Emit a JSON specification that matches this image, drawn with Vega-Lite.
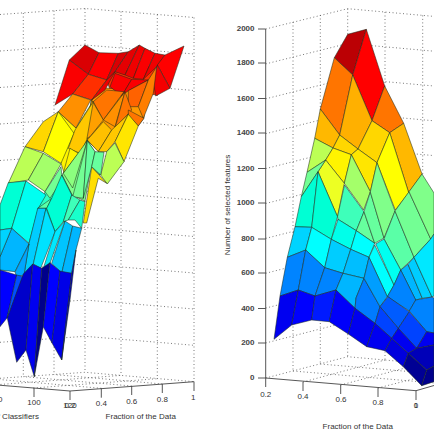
{
  "$schema": "https://vega.github.io/schema/vega-lite/v6.json",
  "autosize": {"type": "none"},
  "width": 434,
  "height": 434,
  "padding": 0,
  "background": "white",
  "config": {"view": {"stroke": null}},
  "datasets": {
    "grid": [
      {"id":"a0","h":[0,85,194],"v":[14.5,8.5,17.5]},
      {"id":"a1","h":[0,85,194],"v":[51,45,54]},
      {"id":"a2","h":[0,85,194],"v":[87.5,81.5,90.5]},
      {"id":"a3","h":[0,85,194],"v":[124,118,127]},
      {"id":"a4","h":[0,85,194],"v":[160.5,154.5,163.5]},
      {"id":"a5","h":[0,85,194],"v":[197,191,200]},
      {"id":"a6","h":[0,85,194],"v":[233.5,227.5,236.5]},
      {"id":"a7","h":[0,85,194],"v":[270,264,273]},
      {"id":"a8","h":[0,85,194],"v":[306,300,309]},
      {"id":"a9","h":[0,85,194],"v":[342.3,336.3,345.3]},
      {"id":"a10","h":[0,85,194],"v":[378.3,372.3,381.7]},
      {"id":"b1","h":[23.3,23.3],"v":[13,376.7]},
      {"id":"b2","h":[54,54],"v":[10.7,374.5]},
      {"id":"b3","h":[85,85],"v":[8.5,372.3]},
      {"id":"b4","h":[121,121],"v":[11.5,375.3]},
      {"id":"b5","h":[157.3,157.3],"v":[14.5,378.5]},
      {"id":"b6","h":[194,194],"v":[17.5,381.7]},
      {"id":"c1","h":[-3,121],"v":[384.7,375.4]},
      {"id":"c2","h":[33.3,157.3],"v":[388,378.7]},
      {"id":"c3","h":[101.3,-7.7],"v":[388.3,378.9]},
      {"id":"c4","h":[131.7,23],"v":[386,376.6]},
      {"id":"c5","h":[162.3,53.5],"v":[384,374.5]},
      {"id":"d1","h":[265.7,347.7,434],"v":[343,321.9,329.6]},
      {"id":"d2","h":[265.7,347.7,434],"v":[308.1,287.1,294.8]},
      {"id":"d3","h":[265.7,347.7,434],"v":[273.3,252.3,260]},
      {"id":"d4","h":[265.7,347.7,434],"v":[238.4,217.5,225.2]},
      {"id":"d5","h":[265.7,347.7,434],"v":[203.5,182.7,190.4]},
      {"id":"d6","h":[265.7,347.7,434],"v":[168.6,147.9,155.6]},
      {"id":"d7","h":[265.7,347.7,434],"v":[133.7,113.1,120.8]},
      {"id":"d8","h":[265.7,347.7,434],"v":[98.8,78.3,86]},
      {"id":"d9","h":[265.7,347.7,434],"v":[63.9,43.5,51.2]},
      {"id":"d10","h":[265.7,347.7,434],"v":[29,8.7,16.4]},
      {"id":"d0","h":[265.7,347.7,434],"v":[378,356.7,364.4]},
      {"id":"e1","h":[293,293],"v":[22,371]},
      {"id":"e2","h":[320.3,320.3],"v":[15,364]},
      {"id":"e3","h":[347.7,347.7],"v":[8.7,356.7]},
      {"id":"e4","h":[385,385],"v":[12,360]},
      {"id":"e5","h":[422.7,422.7],"v":[15.4,363.4]},
      {"id":"f1","h":[303,385],"v":[382,360]},
      {"id":"f2","h":[340.7,422.7],"v":[385,363.4]},
      {"id":"f3","h":[378,460],"v":[388,367]},
      {"id":"f4","h":[293,443],"v":[371,383.7]},
      {"id":"f5","h":[320.3,470],"v":[364,376.7]}
    ],
    "axes": [
      {"id":"z","h":[265.7,265.7],"v":[29,378]},
      {"id":"x","h":[265.7,416,434],"v":[378,390.7,385.5]},
      {"id":"l","h":[-3,70,194],"v":[385,391,381.7]},
      {"id":"t0","h":[258,265.7],"v":[378,378]},
      {"id":"t1","h":[258,265.7],"v":[343,343]},
      {"id":"t2","h":[258,265.7],"v":[308.5,308.5]},
      {"id":"t3","h":[258,265.7],"v":[273,273]},
      {"id":"t4","h":[258,265.7],"v":[239,239]},
      {"id":"t5","h":[258,265.7],"v":[203,203]},
      {"id":"t6","h":[258,265.7],"v":[168.5,168.5]},
      {"id":"t7","h":[258,265.7],"v":[133,133]},
      {"id":"t8","h":[258,265.7],"v":[98.5,98.5]},
      {"id":"t9","h":[258,265.7],"v":[63,63]},
      {"id":"t10","h":[258,265.7],"v":[29,29]},
      {"id":"u1","h":[265.7,265.7],"v":[378,387]},
      {"id":"u2","h":[303,303],"v":[382,391]},
      {"id":"u3","h":[340.7,340.7],"v":[385,394]},
      {"id":"u4","h":[378,378],"v":[388,397]},
      {"id":"u5","h":[416,416],"v":[390.7,400]},
      {"id":"w1","h":[34,34],"v":[388,397]},
      {"id":"w2","h":[70,70],"v":[391,400]},
      {"id":"w3","h":[101.3,101.3],"v":[388.3,397.7]},
      {"id":"w4","h":[131.7,131.7],"v":[386,395]},
      {"id":"w5","h":[162.3,162.3],"v":[384,393]},
      {"id":"w6","h":[194,194],"v":[381.7,391]}
    ],
    "surface": [
      {"id":"r1","z":94,"h":[347.7,366.3,352.7,334.3,347.7],"v":[34.3,29.3,75,57.7,34.3]},
      {"id":"r2","z":87.5,"h":[366.3,384.7,372,352.7,366.3],"v":[29.3,86,120.7,75,29.3]},
      {"id":"r3","z":80,"h":[334.3,352.7,339.7,320.3,334.3],"v":[57.7,75,135,109,57.7]},
      {"id":"r4","z":73,"h":[352.7,372,358,339.7,352.7],"v":[75,120.7,149,135,75]},
      {"id":"r5","z":80,"h":[384.7,403.7,389.7,372,384.7],"v":[86,123.3,132.7,120.7,86]},
      {"id":"r6","z":72,"h":[320.3,339.7,333,314.7,320.3],"v":[109,135,148,138.3,109]},
      {"id":"r7","z":68,"h":[339.7,358,351.3,333,339.7],"v":[135,149,154.7,148,135]},
      {"id":"r8","z":68,"h":[372,389.7,377,358,372],"v":[120.7,132.7,162.7,149,120.7]},
      {"id":"r9","z":72,"h":[389.7,403.7,422,408.7,389.7],"v":[132.7,123.3,174,192.7,132.7]},
      {"id":"r10","z":62.5,"h":[389.7,408.7,395.3,377,389.7],"v":[132.7,192.7,210,162.7,132.7]},
      {"id":"r11","z":57,"h":[314.7,333,325.7,307,314.7],"v":[138.3,148,160,172.3,138.3]},
      {"id":"r12","z":64,"h":[333,351.3,344.3,325.7,333],"v":[148,154.7,183.3,160,148]},
      {"id":"r13","z":66,"h":[358,377,370.3,351.3,358],"v":[149,162.7,191.7,154.7,149]},
      {"id":"r14","z":55,"h":[351.3,370.3,363.7,344.3,351.3],"v":[154.7,191.7,210,183.3,154.7]},
      {"id":"r15","z":61,"h":[325.7,344.3,337.5,318,325.7],"v":[160,183.3,216.7,171.7,160]},
      {"id":"r16","z":51,"h":[307,325.7,318,301.3,307],"v":[172.3,160,171.7,196.7,172.3]},
      {"id":"r17","z":44,"h":[301.3,318,311.7,295,301.3],"v":[196.7,171.7,227.3,226.7,196.7]},
      {"id":"r18","z":44,"h":[318,337.5,331.3,311.7,318],"v":[171.7,216.7,239.3,227.3,171.7]},
      {"id":"r19","z":47,"h":[344.5,364,356.3,338,337.5,344.5],"v":[185,211.7,230.7,219.3,216.7,185]},
      {"id":"r20","z":50,"h":[364,374.7,356.3,364],"v":[211.7,243.3,230.7,211.7]},
      {"id":"r21","z":50,"h":[364,370.3,384,374.7,364],"v":[211.7,192,238,243.3,211.7]},
      {"id":"r22","z":52,"h":[370.3,377,395,384,370.3],"v":[192,162.7,211,238,192]},
      {"id":"r23","z":49,"h":[384,395,414,400.7,384],"v":[239,211,257.3,270,239]},
      {"id":"r24","z":51,"h":[395,409,430.7,414,395],"v":[211,191.7,239,257.3,211]},
      {"id":"r25","z":52,"h":[409,422,434,434,430.7,409],"v":[191.7,174,193,234,239,191.7]},
      {"id":"r26","z":31,"h":[287.3,295,311.7,305.7,287.3],"v":[257.3,226.7,227.3,250,257.3]},
      {"id":"r27","z":37.5,"h":[305.7,311.7,331.3,324.7,305.7],"v":[250,227.3,239.3,267.7,250]},
      {"id":"r28","z":41,"h":[331.3,338,356.3,350.7,331.3],"v":[239.3,219.3,230.7,249.3,239.3]},
      {"id":"r29","z":37.5,"h":[350.7,356.3,374.7,369,350.7],"v":[249.3,230.7,243.3,257.3,249.3]},
      {"id":"r30","z":30,"h":[324.7,331.3,350.7,343,324.7],"v":[267.7,239.3,249.3,273.3,267.7]},
      {"id":"r31","z":28,"h":[343,350.7,369,364,343],"v":[273.3,249.3,257.3,278.3,273.3]},
      {"id":"r32","z":37.5,"h":[374.7,394,387.3,369,374.7],"v":[245,285,296.7,257.3,245]},
      {"id":"r33","z":40,"h":[375.7,384,400.7,394,375.7],"v":[244,239,270,285,244]},
      {"id":"r34","z":27,"h":[400.7,408,422.3,415.7,400.7],"v":[270,264.3,298.3,300,270]},
      {"id":"r35","z":30,"h":[408,414,432,422.3,408],"v":[264.3,257.3,297,298.3,264.3]},
      {"id":"r36","z":34,"h":[414,430.7,434,434,432,414],"v":[257.3,239,234,296,297,257.3]},
      {"id":"r37","z":21,"h":[280,287.3,305.7,298.3,280],"v":[296,257.3,250,290,296]},
      {"id":"r38","z":21,"h":[298.3,305.7,324.7,315,298.3],"v":[290,250,267.7,296,290]},
      {"id":"r39","z":21,"h":[315,324.7,343,336,315],"v":[296,267.7,273.3,290,296]},
      {"id":"r40","z":27,"h":[336,343,364,356,355,336],"v":[290,273.3,278.3,298,308.3,290]},
      {"id":"r41","z":20,"h":[356,364,380,375,355,356],"v":[298,278.3,306.7,323.3,308.3,298]},
      {"id":"r42","z":24,"h":[364,369,387.3,380,364],"v":[278.3,257.3,296.7,306.7,278.3]},
      {"id":"r43","z":21,"h":[387.3,394,400.7,415.7,409.3,387.3],"v":[296.7,285,270,300,311,296.7]},
      {"id":"r44","z":21,"h":[409.3,415.7,432,434,434,426.7,409.3],"v":[311,300,297,298,333,331.7,311]},
      {"id":"r45","z":17,"h":[380,388,409.3,398.3,380],"v":[306.7,296.7,311.7,328.3,306.7]},
      {"id":"r46","z":15,"h":[375,380,398.3,391.7,375],"v":[323.3,306.7,328.3,338.3,323.3]},
      {"id":"r47","z":15,"h":[398.3,409.3,426.7,416.7,398.3],"v":[328.3,311.7,331.7,348.3,328.3]},
      {"id":"r48","z":11,"h":[416.7,426.7,434,434,416.7],"v":[348.3,331.7,333,345,348.3]},
      {"id":"r49","z":11,"h":[274,280,298.3,291.7,274],"v":[339.3,296,290,325,339.3]},
      {"id":"r50","z":12.5,"h":[291.7,298.3,315,311.7,291.7],"v":[325,290,296,320,325]},
      {"id":"r51","z":13,"h":[311.7,315,336,329.3,311.7],"v":[320,296,290,321.7,320]},
      {"id":"r52","z":12,"h":[329.3,336,355,348.3,329.3],"v":[321.7,290,308.3,334,321.7]},
      {"id":"r53","z":11,"h":[355,375,366.7,348.3,355],"v":[308.3,323.3,346.7,334,308.3]},
      {"id":"r54","z":11,"h":[375,391.7,385,366.7,375],"v":[323.3,338.3,350.7,346.7,323.3]},
      {"id":"r55","z":9,"h":[391.7,408.3,403.3,385,391.7],"v":[338.3,353.3,366.7,350.7,338.3]},
      {"id":"r56","z":11,"h":[398.3,416.7,408.3,391.7,398.3],"v":[328.3,348.3,353.3,338.3,328.3]},
      {"id":"r57","z":5,"h":[416.7,434,434,426.7,408.3,416.7],"v":[348.3,345,366,370,353.3,348.3]},
      {"id":"r58","z":1,"h":[408.3,426.7,421.7,403.3,408.3],"v":[353.3,370,385.7,366.7,353.3]},
      {"id":"r59","z":0,"h":[426.7,434,434,421.7,426.7],"v":[370,366,381.7,385.7,370]},

      {"id":"lb1","z":86,"h":[106.7,115,155,157,128,110,106.7],"v":[80,72,66,95,92,90,80]},
      {"id":"lb2","z":76,"h":[91,106,125,148,144,138,115,98,87,91],"v":[100,88,90,80,118,126,128,151,140,100]},
      {"id":"lb3","z":64,"h":[58.3,76,93,87,78,64,61,58.3],"v":[111.7,128,101,140,153,173,163,111.7]},
      {"id":"lb4","z":52,"h":[62,87,95,100,91,85,72,62],"v":[175,140,152,175,167,201,195,175]},
      {"id":"lb5","z":46,"h":[45,62,72,55,38,45],"v":[192,175,195,232,208,192]},
      {"id":"l1","z":91,"h":[69.3,85,99,88.3,69.3],"v":[60,45,52.7,74.3,60]},
      {"id":"l2","z":87.5,"h":[88.3,99,118.3,106.7,88.3],"v":[74.3,52.7,53.3,80,74.3]},
      {"id":"l3","z":91,"h":[106.7,118.3,128.3,115,106.7],"v":[80,53.3,51.7,71.7,80]},
      {"id":"l4","z":90,"h":[115,128.3,139.3,125,115],"v":[71.7,51.7,45,75,71.7]},
      {"id":"l5","z":89,"h":[125,139.3,145,133.3,125],"v":[75,45,48.3,78.3,75]},
      {"id":"l6","z":88,"h":[133.3,145,155,143.3,133.3],"v":[78.3,48.3,53.3,79.3,78.3]},
      {"id":"l7","z":89,"h":[143.3,155,165,156.7,143.3],"v":[79.3,53.3,55,66.7,79.3]},
      {"id":"l8","z":87.5,"h":[157.3,165,184,170,157.3],"v":[65,55,46,88.3,65]},
      {"id":"l9","z":88.5,"h":[157.3,170,155.7,153,157.3],"v":[65,88.3,96,80,65]},
      {"id":"l10","z":88,"h":[55,69.3,88.3,72.7,55],"v":[105,60,74.3,94,105]},
      {"id":"l11","z":86,"h":[72.7,88.3,106.7,91.7,72.7],"v":[94,74.3,80,100,94]},
      {"id":"l12","z":89,"h":[91.7,106.7,115,105,91.7],"v":[100,80,71.7,90,100]},
      {"id":"l13","z":88,"h":[110,115,131.7,121.7,110],"v":[86.7,73.3,79.3,96,86.7]},
      {"id":"l14","z":88,"h":[121.7,131.7,148.3,128.3,121.7],"v":[96,79.3,80,90.7,96]},
      {"id":"l15","z":82,"h":[128.3,148.3,138.3,128.3,128.3],"v":[90.7,80,106.7,106.7,90.7]},
      {"id":"l16","z":79,"h":[148.3,156.7,153.3,143.3,138.3,148.3],"v":[80,66.7,93.3,118.3,106.7,80]},
      {"id":"l17","z":77,"h":[58.3,72.7,90.7,76,58.3],"v":[111.7,94,100,128,111.7]},
      {"id":"l18","z":68,"h":[43.3,58.3,43.3,25,43.3],"v":[121.7,111.7,151.7,146.7,121.7]},
      {"id":"l19","z":62.5,"h":[58.3,74,61,43.3,58.3],"v":[111.7,133.3,163.3,151.7,111.7]},
      {"id":"l20","z":80,"h":[93.3,106.7,124,103.3,93.3],"v":[101.7,90,91.7,120,101.7]},
      {"id":"l21","z":75,"h":[91.7,103.3,90,83.3,91.7],"v":[100,120,136.7,140,100]},
      {"id":"l22","z":70,"h":[93.3,75,68.3,80,86.7,93.3],"v":[101.7,130,148.3,153.3,140,101.7]},
      {"id":"l23","z":77,"h":[103.3,125,115,103.3],"v":[120,91.7,126.7,120]},
      {"id":"l24","z":80,"h":[125,131.7,115,125],"v":[91.7,110,128.3,91.7]},
      {"id":"l25","z":80,"h":[128.3,144,138.3,128.3,128.3],"v":[110,118.3,126,115,110]},
      {"id":"l26","z":71,"h":[87.3,103.3,111.7,98.3,87.3],"v":[140,121.7,130,151.7,140]},
      {"id":"l27","z":70,"h":[98.3,111.7,128.3,115,106.7,98.3],"v":[151.7,130,114.3,141.7,151.7,151.7]},
      {"id":"l28","z":66,"h":[115,128.3,138.3,124,115],"v":[141.7,114.3,126,161.7,141.7]},
      {"id":"l29","z":57,"h":[106.7,115,124,107.3,100.7,106.7],"v":[151.7,143,161.7,184,175,151.7]},
      {"id":"l30","z":64,"h":[70,78.3,63.3,70],"v":[148.3,153.3,173.3,148.3]},
      {"id":"l31","z":67,"h":[91.7,106.7,98.3,86.7,83.3,91.7],"v":[167,183.3,178.3,223,223,167]},
      {"id":"l32","z":53,"h":[87.3,72.7,63.3,87.3],"v":[140.7,188,173.3,140.7]},
      {"id":"l33","z":51,"h":[87.3,83.3,72.7,87.3],"v":[140.7,198.3,196.7,140.7]},
      {"id":"l34","z":50,"h":[87.3,95,91.7,83.3,87.3],"v":[140.7,151.7,166.7,198.3,140.7]},
      {"id":"l35","z":50,"h":[95,104,100.7,91.7,95],"v":[151.7,152.3,175,166.7,151.7]},
      {"id":"l36","z":57,"h":[25,43.3,28.3,8.3,25],"v":[146.7,153.3,180,183.3,146.7]},
      {"id":"l37","z":55,"h":[43.3,61,45,28.3,43.3],"v":[153.3,164,191.7,180,153.3]},
      {"id":"l38","z":51,"h":[61,62.3,50,45,61],"v":[166.7,180,198.3,191.7,166.7]},
      {"id":"l39","z":44,"h":[8.3,26,11.7,0,0,8.3],"v":[182.7,181,228.3,230,205,182.7]},
      {"id":"l40","z":40,"h":[26,46,38.3,29,11.7,26],"v":[181,195,208.3,243.3,228.3,181]},
      {"id":"l41","z":49,"h":[40,51.7,46.7,37.7,40],"v":[206.7,198.3,208.3,208.3,206.7]},
      {"id":"l42","z":44,"h":[51.7,61.7,71.7,63.3,55,46.7,51.7],"v":[198.3,175,195,221.7,231.7,208.3,198.3]},
      {"id":"l43","z":47,"h":[71.7,80,68.3,63.3,71.7],"v":[195,200,220,221.7,195]},
      {"id":"l44","z":45,"h":[80,85,81.7,75,68.3,80],"v":[200,201.7,228.3,220,220,200]},
      {"id":"l45","z":30,"h":[37.7,46,33.3,24,29,37.7],"v":[208.3,208.3,264,275,243.3,208.3]},
      {"id":"l46","z":33,"h":[46,55,40.7,33.3,46],"v":[208.3,231.7,268.3,264,208.3]},
      {"id":"l47","z":27,"h":[0,11.7,29,15,0,0],"v":[256.7,228.3,244,271.7,270,256.7]},
      {"id":"l48","z":31,"h":[0,11.7,0,0],"v":[230,228.3,256.7,230]},
      {"id":"l49","z":25,"h":[29,24,16.7,15,29],"v":[244,275,276.7,272,244]},
      {"id":"l50","z":29,"h":[65,72.7,61.7,51.7,65],"v":[221,226,273.3,263.3,221]},
      {"id":"l51","z":27,"h":[72.7,81.7,76,71.7,61.7,72.7],"v":[226,228.3,250,273.3,273.3,226]},
      {"id":"l52","z":34,"h":[55,65,50,43.3,55],"v":[231.7,221,263.3,268.3,231.7]},
      {"id":"l53","z":12.5,"h":[0,16.7,7,0,0],"v":[270,275,318,326.7,270]},
      {"id":"l54","z":16,"h":[16.7,23.3,7.3,7,16.7],"v":[275,276.7,318,318,275]},
      {"id":"l55","z":7,"h":[23.3,32.7,26,16.7,7.3,23.3],"v":[274,264,350,362.3,318,274]},
      {"id":"l56","z":11,"h":[32.7,41.7,34.3,26,32.7],"v":[264,268.3,376.7,350,264]},
      {"id":"l57","z":0,"h":[41.7,50,43.3,34.3,41.7],"v":[268.3,262.7,326.7,376.7,268.3]},
      {"id":"l58","z":12.5,"h":[50,60,52,43.3,50],"v":[262.7,271,343,326.7,262.7]},
      {"id":"l59","z":10,"h":[60,71.7,61.7,52,60],"v":[271,273.3,360,343,271]},
      {"id":"l60","z":5,"h":[71.7,76,70,61.7,71.7],"v":[273.3,250,300,360,273.3]}
    ],
    "labels": [
      {"text":"2000","h":254.5,"v":29},{"text":"1800","h":254.5,"v":63},
      {"text":"1600","h":254.5,"v":98.5},{"text":"1400","h":254.5,"v":133},
      {"text":"1200","h":254.5,"v":168.5},{"text":"1000","h":254.5,"v":203},
      {"text":"800","h":254.5,"v":239},{"text":"600","h":254.5,"v":273},
      {"text":"400","h":254.5,"v":308.5},{"text":"200","h":254.5,"v":343},
      {"text":"0","h":254.5,"v":378}
    ],
    "ticks": [
      {"text":"0.2","h":265.7,"v":394.5},{"text":"0.4","h":303,"v":397},
      {"text":"0.6","h":341,"v":400},{"text":"0.8","h":378,"v":403},
      {"text":"1","h":416,"v":406},{"text":"0","h":416,"v":406},
      {"text":"80","h":-2,"v":400},{"text":"100","h":34,"v":402.7},
      {"text":"120","h":70,"v":405.7},{"text":"0.2","h":70,"v":405.7},
      {"text":"0.4","h":101.3,"v":404},{"text":"0.6","h":131.7,"v":402.3},
      {"text":"0.8","h":162.3,"v":400},{"text":"1","h":193.3,"v":398.3},
      {"text":"Fraction of the Data","h":357.7,"v":426.7},
      {"text":"Fraction of the Data","h":140.7,"v":417}
    ],
    "leftTitle": [{"text":"Number of Classifiers","h":39,"v":417}],
    "sideTitle": [{"text":"Number of selected features","h":228,"v":205}]
  },
  "encoding": {
    "x": {"field": "h", "type": "quantitative", "axis": null, "scale": {"domain": [0, 434], "nice": false, "zero": false}},
    "y": {"field": "v", "type": "quantitative", "axis": null, "scale": {"domain": [434, 0], "nice": false, "zero": false}}
  },
  "layer": [
    {
      "data": {"name": "grid"},
      "transform": [{"flatten": ["h", "v"]}, {"window": [{"op": "row_number", "as": "i"}]}],
      "mark": {"type": "line", "clip": true, "stroke": "#555555", "strokeWidth": 0.8, "strokeDash": [1, 2.5]},
      "encoding": {"detail": {"field": "id"}, "order": {"field": "i", "type": "quantitative"}}
    },
    {
      "data": {"name": "axes"},
      "transform": [{"flatten": ["h", "v"]}, {"window": [{"op": "row_number", "as": "i"}]}],
      "mark": {"type": "line", "clip": true, "stroke": "#444444", "strokeWidth": 0.9},
      "encoding": {"detail": {"field": "id"}, "order": {"field": "i", "type": "quantitative"}}
    },
    {
      "data": {"name": "surface"},
      "transform": [{"flatten": ["h", "v"]}, {"window": [{"op": "row_number", "as": "i"}]}],
      "mark": {"type": "line", "clip": true, "stroke": "#1a2a1a", "strokeWidth": 0.7, "strokeOpacity": 0.75, "strokeJoin": "round"},
      "encoding": {
        "detail": {"field": "id"},
        "order": {"field": "i", "type": "quantitative"},
        "fill": {
          "field": "z",
          "type": "quantitative",
          "legend": null,
          "scale": {
            "domain": [0, 12.5, 37.5, 62.5, 87.5, 100],
            "range": ["#00008b", "#0000ff", "#00ffff", "#ffff00", "#ff0000", "#800000"]
          }
        }
      }
    },
    {
      "data": {"name": "labels"},
      "mark": {"type": "text", "align": "right", "baseline": "middle", "font": "Liberation Sans", "fontSize": 8, "fontWeight": "bold", "color": "#444444"},
      "encoding": {"text": {"field": "text"}}
    },
    {
      "data": {"name": "ticks"},
      "mark": {"type": "text", "align": "center", "baseline": "middle", "font": "Liberation Sans", "fontSize": 8, "color": "#333333"},
      "encoding": {"text": {"field": "text"}}
    },
    {
      "data": {"name": "leftTitle"},
      "mark": {"type": "text", "align": "right", "baseline": "middle", "font": "Liberation Sans", "fontSize": 8, "color": "#333333"},
      "encoding": {"text": {"field": "text"}}
    },
    {
      "data": {"name": "sideTitle"},
      "mark": {"type": "text", "align": "center", "baseline": "middle", "angle": 270, "font": "Liberation Sans", "fontSize": 8, "color": "#333333"},
      "encoding": {"text": {"field": "text"}}
    }
  ]
}
